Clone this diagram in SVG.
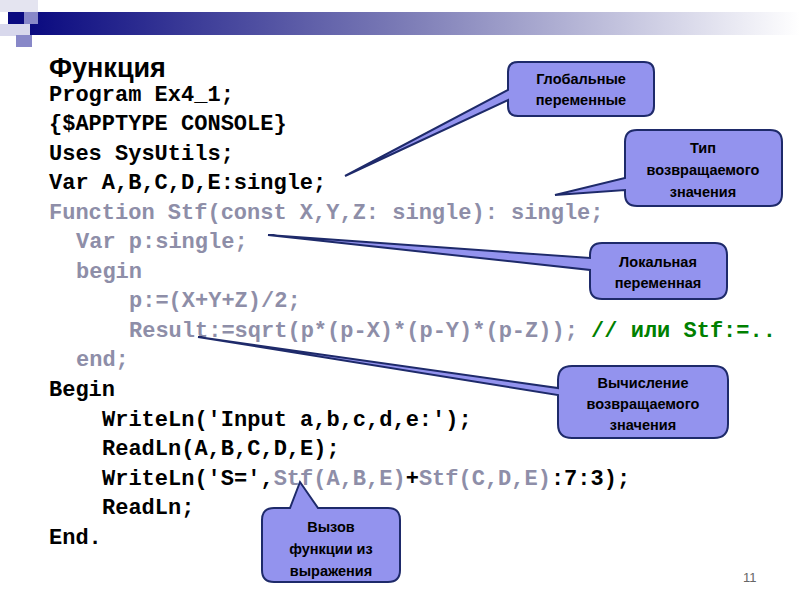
<svg xmlns="http://www.w3.org/2000/svg" width="800" height="600" viewBox="0 0 800 600">
<defs>
<linearGradient id="bar" x1="0" x2="1" y1="0" y2="0"><stop offset="0" stop-color="#0a0a80"/><stop offset="0.5" stop-color="#7f7fb8"/><stop offset="1" stop-color="#ffffff"/></linearGradient>
<style>
.c{font-family:"Liberation Mono","DejaVu Sans Mono",monospace;font-weight:bold;font-size:22px;fill:#000}
.g{fill:#8e8ea8}.gr{fill:#008000}
.co{fill:#9393ee;stroke:#1e2a6a;stroke-width:2}
.t{font-family:"Liberation Sans",Arial,sans-serif;font-weight:bold;font-size:14.5px;fill:#000;text-anchor:middle}
</style>
</defs>
<rect width="800" height="600" fill="#fff"/>
<rect x="30" y="12" width="770" height="23" fill="url(#bar)"/>
<rect x="0" y="0" width="38" height="12" fill="#e4e4f0"/>
<rect x="8" y="12" width="16" height="12" fill="#0a0a80"/>
<rect x="24" y="12" width="14" height="12" fill="#8888c8"/>
<rect x="0" y="24" width="30" height="12" fill="#d8d8ec"/>
<rect x="16" y="35" width="16" height="12" fill="#8888c8"/>
<text x="49" y="77" style="font-family:'Liberation Sans',Arial,sans-serif;font-weight:bold;font-size:27px">Функция</text>
<g id="code">
<text class="c" x="49" y="101">Program Ex4_1;</text>
<text class="c" x="49" y="130">{$APPTYPE CONSOLE}</text>
<text class="c" x="49" y="160">Uses SysUtils;</text>
<text class="c" x="49" y="189">Var A,B,C,D,E:single;</text>
<text class="c g" x="49" y="219">Function Stf(const X,Y,Z: single): single;</text>
<text class="c g" x="76" y="248">Var p:single;</text>
<text class="c g" x="76" y="278">begin</text>
<text class="c g" x="129" y="307">p:=(X+Y+Z)/2;</text>
<text class="c" x="129" y="337"><tspan class="g">Result:=sqrt(p*(p-X)*(p-Y)*(p-Z));</tspan><tspan class="gr"> // или Stf:=..</tspan></text>
<text class="c g" x="76" y="366">end;</text>
<text class="c" x="49" y="396">Begin</text>
<text class="c" x="102" y="426">WriteLn('Input a,b,c,d,e:');</text>
<text class="c" x="102" y="455">ReadLn(A,B,C,D,E);</text>
<text class="c" x="102" y="485">WriteLn('S=',<tspan class="g">Stf(A,B,E)</tspan>+<tspan class="g">Stf(C,D,E)</tspan>:7:3);</text>
<text class="c" x="102" y="514">ReadLn;</text>
<text class="c" x="49" y="544">End.</text>
</g>
<g id="n1"><path class="co" d="M518,62 H644 Q654,62 654,72 V106 Q654,116 644,116 H518 Q508,116 508,106 V100 L345,176 L508,90 V72 Q508,62 518,62 Z"/>
<text class="t" x="581" y="84">Глобальные</text><text class="t" x="581" y="105">переменные</text></g>
<g id="n2"><path class="co" d="M637,130 H770 Q782,130 782,142 V194 Q782,206 770,206 H637 Q625,206 625,194 V190 L555,195 L625,178 V142 Q625,130 637,130 Z"/>
<text class="t" x="703" y="153">Тип</text><text class="t" x="703" y="175">возвращаемого</text><text class="t" x="703" y="197">значения</text></g>
<g id="n3"><path class="co" d="M602,243 H715 Q727,243 727,255 V287 Q727,299 715,299 H602 Q590,299 590,287 V270 L268,235 L590,258 V255 Q590,243 602,243 Z"/>
<text class="t" x="658" y="267">Локальная</text><text class="t" x="658" y="288">переменная</text></g>
<g id="n4"><path class="co" d="M572,366 H714 Q728,366 728,380 V424 Q728,438 714,438 H572 Q558,438 558,424 V395 L198,337 L558,388 V380 Q558,366 572,366 Z"/>
<text class="t" x="643" y="388">Вычисление</text><text class="t" x="643" y="409">возвращаемого</text><text class="t" x="643" y="430">значения</text></g>
<g id="n5"><path class="co" d="M274,508 H290 L300,482 L318,508 H388 Q400,508 400,520 V570 Q400,582 388,582 H274 Q262,582 262,570 V520 Q262,508 274,508 Z"/>
<text class="t" x="331" y="532">Вызов</text><text class="t" x="331" y="554">функции из</text><text class="t" x="331" y="576">выражения</text></g>
<text x="743" y="582" style="font-family:'Liberation Sans',Arial,sans-serif;font-size:13px;fill:#666">11</text>
</svg>
